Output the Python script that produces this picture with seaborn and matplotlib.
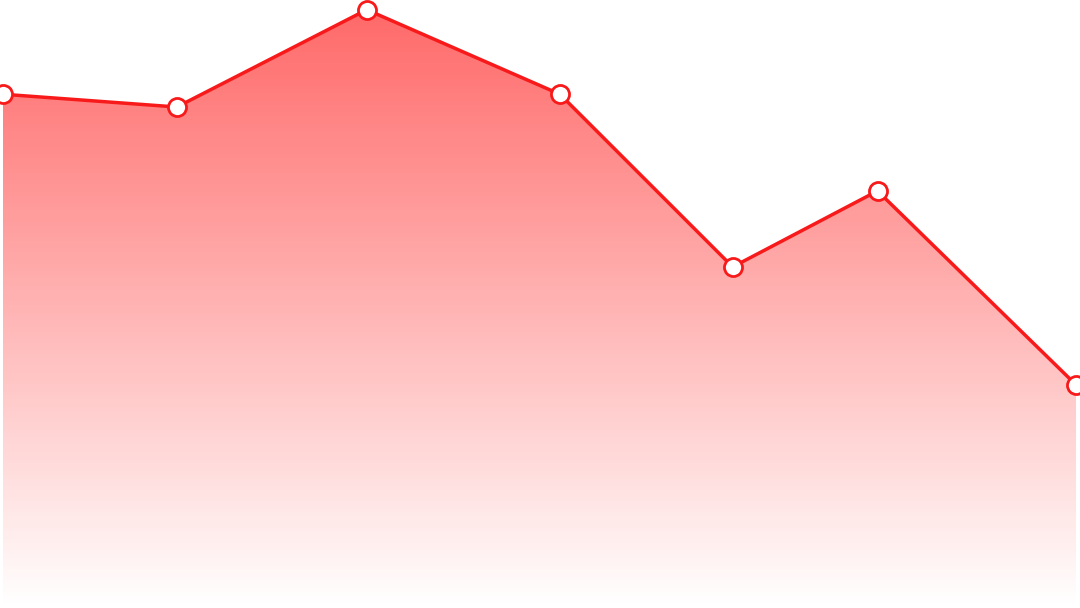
import numpy as np
import pandas as pd
import matplotlib
matplotlib.use("Agg")
import matplotlib.pyplot as plt
import seaborn as sns
from matplotlib.colors import LinearSegmentedColormap

sns.set_style("white")

# data
x_vals = [0, 16.2, 33.9, 51.9, 68.0, 81.5, 100]
y_vals = [84.5, 82.4, 98.4, 84.5, 56.1, 68.6, 36.7]

LINE_RED = "#f81a1a"


def plot_area(df):
    fig = plt.figure(figsize=(10.8, 6.08), dpi=100)
    ax = fig.add_axes([0, 0, 1, 1])

    # gradient fill under the line
    poly = ax.fill_between(df["x"], df["y"], 0, color="none", lw=0)
    cmap = LinearSegmentedColormap.from_list(
        "fade", [(1, 0.05, 0.05, 0.0), (1, 0.05, 0.05, 0.62)])
    grad = np.linspace(0, 1, 256).reshape(-1, 1)
    top = df["y"].max()
    img = ax.imshow(grad, cmap=cmap, aspect="auto", origin="lower",
                    extent=[df["x"].min(), df["x"].max(), 0, top], zorder=1)
    path = poly.get_paths()[0]
    img.set_clip_path(path, transform=ax.transData)

    sns.lineplot(x="x", y="y", data=df, ax=ax, color=LINE_RED, lw=2.5,
                 marker="o", markersize=13, markerfacecolor="white",
                 markeredgecolor=LINE_RED, markeredgewidth=2, zorder=3)

    ax.set_xlim(-0.28, 100.37)
    ax.set_ylim(0, 100)
    ax.axis("off")

    fig.savefig("out.png", dpi=100)


def main():
    df = pd.DataFrame({"x": x_vals, "y": y_vals})
    plot_area(df)


if __name__ == "__main__":
    main()
